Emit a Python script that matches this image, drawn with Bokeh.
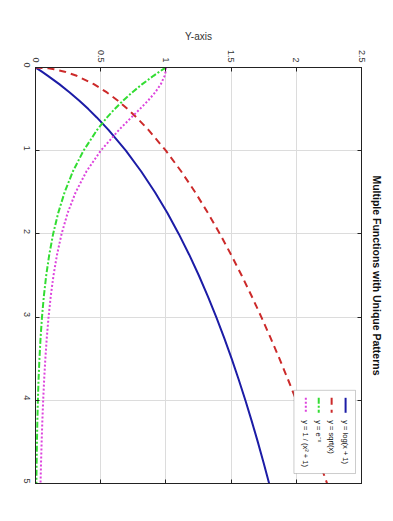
import math
from bokeh.plotting import figure
from bokeh.models import Range1d, LinearAxis, FixedTicker, Label, BoxAnnotation
from bokeh.core.properties import value
from bokeh.embed import file_html
from bokeh.resources import INLINE

# ---- data ----
x_vals = [0.0, 0.01, 0.02, 0.05, 0.1, 0.2, 0.3, 0.4, 0.5, 0.6, 0.75, 1.0, 1.25, 1.5, 1.75,
          2.0, 2.25, 2.5, 2.75, 3.0, 3.25, 3.5, 3.75, 4.0, 4.25, 4.5, 4.75, 5.0]
log_vals = [0.0, 0.00995, 0.0198, 0.0488, 0.0953, 0.1823, 0.2624, 0.3365, 0.4055, 0.47, 0.5596,
            0.6931, 0.8109, 0.9163, 1.0116, 1.0986, 1.1787, 1.2528, 1.3218, 1.3863, 1.4469,
            1.5041, 1.5581, 1.6094, 1.6582, 1.7047, 1.7492, 1.7918]
sqrt_vals = [0.0, 0.1, 0.1414, 0.2236, 0.3162, 0.4472, 0.5477, 0.6325, 0.7071, 0.7746, 0.866,
             1.0, 1.118, 1.2247, 1.3229, 1.4142, 1.5, 1.5811, 1.6583, 1.7321, 1.8028, 1.8708,
             1.9365, 2.0, 2.0616, 2.1213, 2.1794, 2.2361]
exp_vals = [1.0, 0.99, 0.9802, 0.9512, 0.9048, 0.8187, 0.7408, 0.6703, 0.6065, 0.5488, 0.4724,
            0.3679, 0.2865, 0.2231, 0.1738, 0.1353, 0.1054, 0.0821, 0.0639, 0.0498, 0.0388,
            0.0302, 0.0235, 0.0183, 0.0143, 0.0111, 0.0087, 0.0067]
recip_vals = [1.0, 0.9999, 0.9996, 0.9975, 0.9901, 0.9615, 0.9174, 0.8621, 0.8, 0.7353, 0.64,
              0.5, 0.3902, 0.3077, 0.2462, 0.2, 0.1649, 0.1379, 0.1168, 0.1, 0.0865, 0.0755,
              0.0664, 0.0588, 0.0525, 0.0471, 0.0425, 0.0385]

series_labels = ["y = log(x + 1)", "y = sqrt(x)", "y = e\u207b\u02e3", "y = 1 / (x\u00b2 + 1)"]
x_ticks = [0, 1, 2, 3, 4, 5]
y_ticks = [0, 0.5, 1, 1.5, 2, 2.5]
title_text = "Multiple Functions with Unique Patterns"

# ---- styles ----
FONT = "Liberation Sans"
colors = ["#1c1ca6", "#cc2a2a", "#33dd33", "#dd44dd"]
dashes = ["solid", "7 5", "6 2 2 2", "2 2"]
ROT = -math.pi / 2

p = figure(width=393, height=518, output_backend="svg", toolbar_location=None,
           x_range=Range1d(0, 2.5), y_range=Range1d(5, 0),
           x_axis_location="above", y_axis_location="left",
           title=title_text, title_location="right",
           min_border_left=35, min_border_right=30, min_border_top=67, min_border_bottom=35)

p.title.text_font = FONT
p.title.text_font_size = "10.5px"
p.title.text_font_style = "bold"
p.title.align = "center"
p.title.text_color = "#111111"
p.title.standoff = 18

def style_axis(ax, ticks, labels=True):
    ax.ticker = FixedTicker(ticks=ticks)
    ax.minor_tick_line_color = None
    ax.major_tick_in = 4
    ax.major_tick_out = 0
    ax.axis_line_color = "#222222"
    ax.major_tick_line_color = "#222222"
    ax.major_label_text_font = FONT
    if labels:
        ax.major_label_text_color = "#333333"
        ax.major_label_text_font_size = "9px"
        ax.major_label_orientation = ROT
    else:
        ax.major_label_text_color = None
        ax.major_label_text_font_size = "1px"
        ax.major_label_standoff = 0

top = p.xaxis[0]
style_axis(top, y_ticks)
top.axis_label = "Y-axis"
top.axis_label_text_font = FONT
top.axis_label_text_font_size = "10px"
top.axis_label_text_font_style = "normal"
top.axis_label_text_color = "#333333"
top.axis_label_standoff = 5

left = p.yaxis[0]
style_axis(left, x_ticks)
left.major_label_standoff = 9

right_ax = LinearAxis()
style_axis(right_ax, x_ticks, labels=False)
p.add_layout(right_ax, "right")
bottom_ax = LinearAxis()
style_axis(bottom_ax, y_ticks, labels=False)
p.add_layout(bottom_ax, "below")

p.outline_line_color = "#222222"
p.xgrid.ticker = FixedTicker(ticks=y_ticks)
p.ygrid.ticker = FixedTicker(ticks=x_ticks)
p.grid.grid_line_color = "#dcdcdc"
p.grid.grid_line_width = 1

# "X-axis" label, reading top to bottom
p.add_layout(Label(x=-0.183, y=2.5, text="X-axis", angle=ROT, text_align="center",
                   text_baseline="middle", text_font=FONT, text_font_size="10px",
                   text_color="#333333"))

# ---- curves (x on the vertical axis, y on the horizontal axis) ----
series = [log_vals, sqrt_vals, exp_vals, recip_vals]
for vals, c, d in zip(series, colors, dashes):
    p.line(vals, x_vals, line_color=c, line_width=2, line_dash=d, line_join="round")

# ---- legend (rotated) ----
p.add_layout(BoxAnnotation(left=1.982, right=2.454, top=3.88, bottom=4.88,
                           fill_color="white", fill_alpha=1.0,
                           line_color="#555555", line_width=1))
legend_h = [2.378, 2.271, 2.172, 2.073]
for h, c, d, lab in zip(legend_h, colors, dashes, series_labels):
    r = p.segment(x0=[h], y0=[3.97], x1=[h], y1=[4.15], line_color=c, line_width=2, line_dash=d)
    r.level = "overlay"
    t = p.text(x=[h], y=[4.24], text=[lab], angle=ROT, text_align="left", text_baseline="middle",
               text_font=value(FONT), text_font_size="7.5px", text_color="#111111")
    t.level = "overlay"

open("out.html", "w").write(file_html(p, INLINE))
